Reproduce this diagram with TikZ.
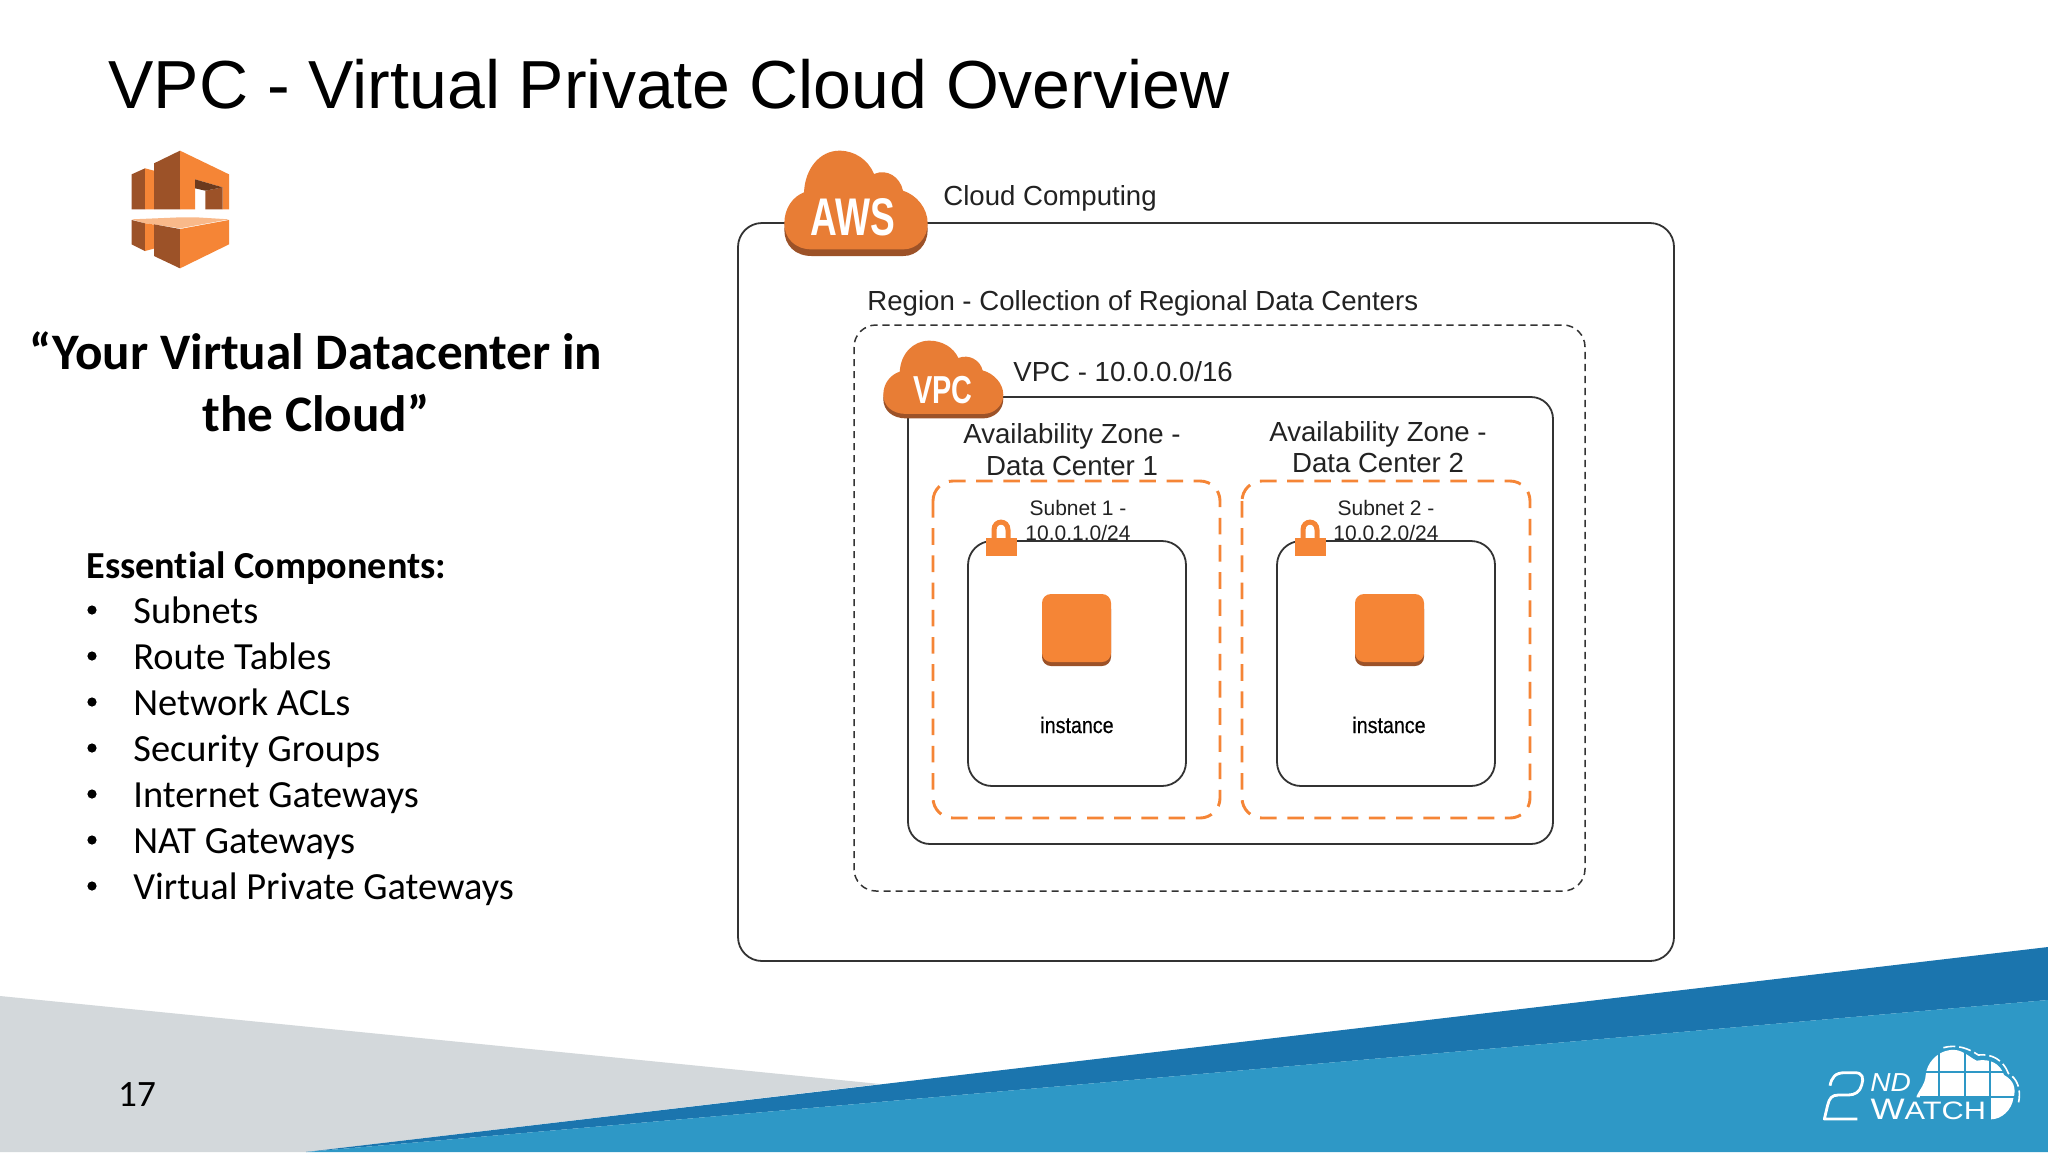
\documentclass[tikz,border=0pt]{standalone}
\usepackage{fontspec}
\setmainfont{Carlito}[Ligatures=NoCommon]
\newfontfamily\arialf{Liberation Sans}
\newfontfamily\instf{Liberation Sans}[FakeBold=0.5]
\definecolor{orangeL}{HTML}{F58536}
\definecolor{orangeC}{HTML}{E87D35}
\definecolor{orangeD}{HTML}{9C5228}
\definecolor{orangeX}{HTML}{6B3A1E}
\definecolor{orangeT}{HTML}{F9B98A}
\definecolor{lineC}{HTML}{333333}
\definecolor{txtC}{HTML}{222222}
\definecolor{blueD}{HTML}{1B75AE}
\definecolor{blueL}{HTML}{2E98C6}
\definecolor{greyB}{HTML}{D3D8DB}
\newcommand{\cloudpath}{(215,358) .. controls (165,358) and (133,325) .. (133,280) .. controls (133,235) and (158,200) .. (192,187) .. controls (195,115) and (240,62) .. (298,62) .. controls (345,62) and (385,90) .. (402,132) .. controls (440,115) and (480,140) .. (489,182) .. controls (530,195) and (563,235) .. (563,280) .. controls (563,325) and (530,358) .. (490,358) -- cycle}
\tikzset{
  boxline/.style={draw=lineC,line width=0.9pt,rounded corners=12pt},
  regionline/.style={draw=lineC,line width=0.75pt,rounded corners=11pt,dash pattern=on 3.6pt off 2.4pt},
  subnetline/.style={draw=orangeL,line width=1.45pt,rounded corners=10pt,dash pattern=on 8.3pt off 5.3pt},
  dia/.style={font=\arialf\fontsize{13.8}{17}\selectfont,text=txtC,inner sep=0pt},
  diac/.style={dia,anchor=base},
  diaw/.style={dia,anchor=base west},
  subn/.style={inner sep=0pt,anchor=base,text=txtC,font=\arialf\fontsize{10.5}{12}\selectfont},
  inst/.style={inner sep=0pt,anchor=base,text=black,xscale=0.87,font=\instf\fontsize{11.3}{13}\selectfont},
  listitem/.style={inner sep=0pt,anchor=base west,text=black,font=\fontsize{19.2}{22}\selectfont},
  bulletdot/.style={circle,fill=black,inner sep=0pt,minimum size=4.6pt},
  quotetxt/.style={inner sep=0pt,anchor=base,text=black,font=\bfseries\fontsize{25.6}{30}\selectfont},
  logotxt/.style={inner sep=0pt,text=white},
}
\begin{document}
\begin{tikzpicture}[x=0.5pt,y=-0.5pt]
\useasboundingbox (0,0) rectangle (2048,1152);
\fill[white] (0,0) rectangle (2048,1152);
% footer
\fill[greyB] (0,996) -- (880,1084) -- (306,1152) -- (0,1152) -- cycle;
\fill[blueD] (306,1152) -- (2048,947) -- (2048,1000) -- cycle;
\fill[blueL] (306,1152) -- (2048,1000) -- (2048,1152) -- cycle;
\node[inner sep=0pt,anchor=base,text=black,font=\fontsize{18.6}{22}\selectfont] (pageno) at (137,1106) {17};
% title
\node[inner sep=0pt,anchor=base west,text=black,font=\arialf\fontsize{34}{40}\selectfont] (title) at (108,108) {VPC - Virtual Private Cloud Overview};
% left logo
\begin{scope}[shift={(100,130)},x=0.16667pt,y=-0.16667pt]
  \fill[orangeD] (95,133) -- (135,115) -- (135,238) -- (95,238) -- cycle;
  \fill[orangeL] (135,115) -- (162,122) -- (162,238) -- (135,238) -- cycle;
  \fill[orangeD] (162,100) -- (240,62) -- (240,238) -- (162,238) -- cycle;
  \fill[orangeL] (240,62) -- (387,133) -- (387,238) -- (368,238) -- (368,172) -- (285,148) -- (285,238) -- (240,238) -- cycle;
  \fill[orangeD] (316,182) -- (368,172) -- (368,238) -- (316,238) -- cycle;
  \fill[orangeX] (285,148) -- (368,172) -- (316,182) -- (285,175) -- cycle;
  \fill[orangeT] (95,268) -- (240,262) -- (290,262) -- (387,268) -- (240,295) -- (162,283) -- (135,280) -- cycle;
  \fill[orangeD] (95,270) -- (135,280) -- (135,363) -- (95,343) -- cycle;
  \fill[orangeL] (135,280) -- (165,284) -- (165,355) -- (135,363) -- cycle;
  \fill[orangeD] (162,283) -- (240,297) -- (240,415) -- (162,378) -- cycle;
  \fill[orangeL] (240,297) -- (387,270) -- (387,343) -- (240,415) -- cycle;
\end{scope}
% quote
\node[quotetxt] (q1) at (316,369) {“Your Virtual Datacenter in};
\node[quotetxt] (q2) at (316,431) {the Cloud”};
% list
\node[listitem,font=\bfseries\fontsize{19.1}{22}\selectfont] (ec) at (86,578) {Essential Components:};
\foreach \yy/\tt/\nn in {623/Subnets/a,669/Route Tables/b,715/Network ACLs/c,761/Security Groups/d,807/Internet Gateways/e,853/NAT Gateways/f,899/Virtual Private Gateways/g}{
  \node[bulletdot] (bul\nn) at (92,\yy-13) {};
  \node[listitem] (item\nn) at (133,\yy) {\tt};
}
% boxes
\draw[boxline] (738,223) rectangle (1674,961);
\draw[regionline] (854,325) rectangle (1585,891);
\draw[boxline,rounded corners=11pt] (908,397) rectangle (1553,844);
\draw[subnetline] (933,481) rectangle (1220,818);
\draw[subnetline] (1242,481) rectangle (1530,818);
% labels
\node[diaw] (lcc) at (943,205) {Cloud Computing};
\node[diaw] (lreg) at (867,310) {Region - Collection of Regional Data Centers};
\node[diaw] (lvpc) at (1013,381) {VPC - 10.0.0.0/16};
\node[diac] (az1a) at (1072,443) {Availability Zone -};
\node[diac] (az1b) at (1072,475) {Data Center 1};
\node[diac] (az2a) at (1378,441) {Availability Zone -};
\node[diac] (az2b) at (1378,472) {Data Center 2};
\node[subn] (s1a) at (1078,515) {Subnet 1 -};
\node[subn] (s1b) at (1078,540) {10.0.1.0/24};
\node[subn] (s2a) at (1386,515) {Subnet 2 -};
\node[subn] (s2b) at (1386,540) {10.0.2.0/24};
% instance boxes
\draw[boxline] (968,541) rectangle (1186,786);
\draw[boxline] (1277,541) rectangle (1495,786);
% instance squares
\foreach \xa/\xb in {1042/1111,1355/1424}{
  \fill[orangeD,rounded corners=4.5pt] (\xa,600) rectangle (\xb,666);
  \fill[orangeL,rounded corners=4.5pt] (\xa,594) rectangle (\xb,662);
}
\node[inst] (i1) at (1077,733) {instance};
\node[inst] (i2) at (1389,733) {instance};
% locks
\foreach \xo in {0,309}{
  \fill[orangeL] (986+\xo,538) rectangle (1017+\xo,556);
  \draw[orangeL,line width=2.5pt] (994+\xo,540) -- (994+\xo,530) .. controls (994+\xo,519.5) and (1008+\xo,519.5) .. (1008+\xo,530) -- (1008+\xo,540);
}
% AWS cloud
\begin{scope}[shift={(740,130)},x=0.16667pt,y=-0.16667pt]
  \fill[orangeD,shift={(0,20)}] \cloudpath;
  \fill[orangeC] \cloudpath;
\end{scope}
\node[inner sep=0pt,text=white,xscale=0.7,font=\arialf\bfseries\fontsize{26.5}{30}\selectfont] (aws) at (853,217) {AWS};
% VPC cloud
\begin{scope}[shift={(846.2,325.3)},x=0.1395pt,y=-0.1238pt]
  \fill[orangeD,shift={(0,18)}] \cloudpath;
  \fill[orangeC] \cloudpath;
\end{scope}
\node[inner sep=0pt,text=white,xscale=0.74,font=\arialf\bfseries\fontsize{19.5}{22}\selectfont] (vpc) at (943,390) {VPC};
% 2nd Watch logo
\begin{scope}[shift={(1780,1020)},x=0.16667pt,y=-0.16667pt]
  \begin{scope}
    \clip (405,80) rectangle (725,300);
    \fill[white] (410,228) .. controls (420,205) and (435,195) .. (437,165) .. controls (440,130) and (470,95) .. (510,90) .. controls (545,85) and (565,110) .. (590,122) .. controls (630,115) and (660,130) .. (672,165) .. controls (700,180) and (710,205) .. (700,235) .. controls (695,270) and (665,298) .. (632,298) -- (632,232) -- (410,232) -- cycle;
    \draw[blueL,line width=1.1pt] (476,80) -- (476,232) (554,80) -- (554,232) (630,80) -- (630,300) (420,155) -- (720,155) (420,230) -- (720,230);
  \end{scope}
  \draw[white,line width=0.8pt,dash pattern=on 6pt off 2pt] (490,83) .. controls (530,72) and (565,85) .. (595,105) .. controls (635,100) and (670,120) .. (685,160) .. controls (710,175) and (725,205) .. (715,250);
  \draw[white,line width=1.4pt,line join=round] (150,197) .. controls (155,172) and (165,158) .. (195,158) -- (225,158) .. controls (248,158) and (252,175) .. (245,195) .. controls (240,215) and (225,225) .. (205,225) -- (175,225) .. controls (155,225) and (148,235) .. (143,255) -- (133,297) -- (232,297);
\end{scope}
\node[logotxt,anchor=base west,font=\arialf\itshape\fontsize{13}{15}\selectfont,xscale=1.08] (lnd) at (1870,1091) {ND};
\node[logotxt,anchor=base west,xscale=1.22,font=\arialf\fontsize{12.6}{15}\selectfont] (lwatch) at (1870,1119) {{\fontsize{14.8}{15}\selectfont W}ATCH};
\end{tikzpicture}
\end{document}
